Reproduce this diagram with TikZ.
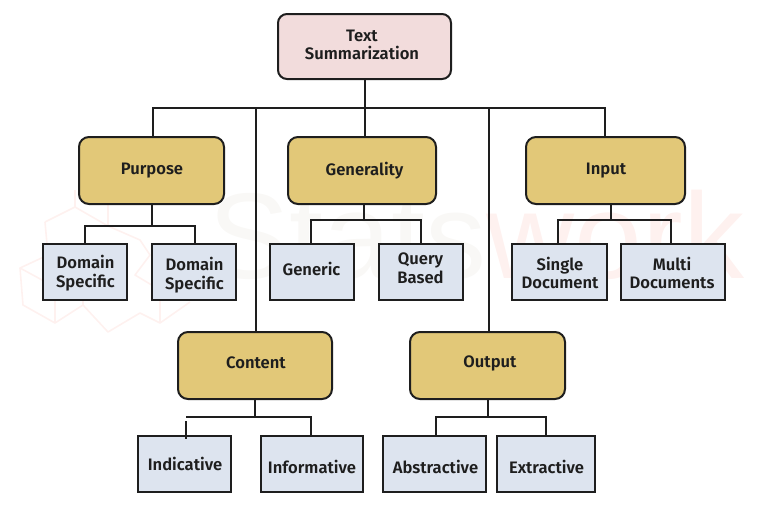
\documentclass[tikz,border=0pt]{standalone}
\usepackage{fontspec}
\setmainfont{Fira Sans}[UprightFont=* Medium,BoldFont=* SemiBold]
\newfontfamily\wmfont{Liberation Sans}
\definecolor{rootfill}{HTML}{F2DCDC}
\definecolor{catfill}{HTML}{E2C878}
\definecolor{leaffill}{HTML}{DDE4EF}
\definecolor{ink}{HTML}{1E1E1E}
\definecolor{wm}{HTML}{FEF1EF}
\definecolor{wmgrey}{HTML}{F9F8F6}
\tikzset{
  base/.style={draw=ink,line width=2pt,inner sep=0pt,outer sep=0pt,anchor=north west},
  rootbox/.style={base,fill=rootfill,rounded corners=9pt},
  catbox/.style={base,fill=catfill,rounded corners=10pt},
  leafbox/.style={base,fill=leaffill},
  link/.style={draw=ink,line width=2pt},
  lab/.style={text=ink,align=center,inner sep=0pt,font=\fontsize{16.6}{18.5}\selectfont\bfseries},
  wmline/.style={draw=wm,line width=1.6pt,line join=round},
}
\begin{document}
\begin{tikzpicture}[x=1pt,y=-1pt]
\useasboundingbox (0,0) rectangle (768,512);
% watermark
\draw[wmline] (45,222) -- (75,207) -- (75,190);
\draw[wmline] (75,207) -- (108,226) -- (108,205);
\draw[wmline] (45,222) -- (48,255) -- (20,268) -- (23,305) -- (55,323) -- (83,305) -- (108,332) -- (140,313) -- (160,323) -- (190,302);
\draw[wmline] (20,268) -- (55,287) -- (55,323);
\draw[wmline] (108,226) -- (140,240) -- (150,255) -- (135,275) -- (160,290) -- (160,323);
\draw[wmline] (55,287) -- (83,272) -- (83,305);
\node[text=wmgrey,font=\fontsize{122}{122}\selectfont\wmfont,anchor=base west,inner sep=0pt] (wmarka) at (208,278) {Stats};
\node[text=wm,font=\fontsize{122}{122}\selectfont\wmfont,anchor=base west,inner sep=0pt] (wmarkb) at (wmarka.base east) {work};
% boxes
\node[rootbox,minimum width=173pt,minimum height=65pt] (root) at (278,14) {};
\node[catbox,minimum width=145pt,minimum height=67pt] (purpose) at (79,137) {};
\node[catbox,minimum width=148pt,minimum height=67pt] (generality) at (288,137) {};
\node[catbox,minimum width=159pt,minimum height=67pt] (input) at (526,137) {};
\node[catbox,minimum width=154pt,minimum height=67pt] (content) at (178,332) {};
\node[catbox,minimum width=155pt,minimum height=67pt] (output) at (410,332) {};
\node[leafbox,minimum width=84pt,minimum height=56pt] (ds1) at (43,244) {};
\node[leafbox,minimum width=84pt,minimum height=56pt] (ds2) at (152,244) {};
\node[leafbox,minimum width=84pt,minimum height=56pt] (generic) at (270,244) {};
\node[leafbox,minimum width=84pt,minimum height=56pt] (query) at (379,244) {};
\node[leafbox,minimum width=95pt,minimum height=56pt] (single) at (512,244) {};
\node[leafbox,minimum width=104pt,minimum height=56pt] (multi) at (621,244) {};
\node[leafbox,minimum width=93pt,minimum height=56pt] (indicative) at (138,436) {};
\node[leafbox,minimum width=102pt,minimum height=56pt] (informative) at (261,436) {};
\node[leafbox,minimum width=103pt,minimum height=56pt] (abstractive) at (383,436) {};
\node[leafbox,minimum width=98pt,minimum height=56pt] (extractive) at (497,436) {};
% labels
\node[lab] (l0) at (362,45) {Text\\Summarization};
\node[lab] (l1) at (152,171) {Purpose};
\node[lab] (l2) at (364.5,171) {Generality};
\node[lab] (l3) at (606,171) {Input};
\node[lab] (l4) at (256,363) {Content};
\node[lab] (l5) at (490,363.5) {Output};
\node[lab] (l6) at (85.5,273) {Domain\\Specific};
\node[lab] (l7) at (194.5,275) {Domain\\Specific};
\node[lab] (l8) at (311.5,269) {Generic};
\node[lab] (l9) at (420.5,268) {Query\\Based};
\node[lab] (l10) at (560,273) {Single\\Document};
\node[lab] (l11) at (672,273) {Multi\\Documents};
\node[lab] (l12) at (185,464) {Indicative};
\node[lab] (l13) at (312,466.5) {Informative};
\node[lab] (l14) at (435.5,466.5) {Abstractive};
\node[lab] (l15) at (546.5,466.5) {Extractive};
% junctions
\coordinate (busL) at (152.5,108);
\coordinate (busC) at (256,108);
\coordinate (busR) at (364.5,108);
\coordinate (busO) at (488.5,108);
\coordinate (busI) at (605,108);
% trunk
\draw[link] (root.south -| busR) -- (generality.north -| busR);
\draw[link] (purpose.north -| busL) -- (busL) -- (busI) -- (input.north -| busI);
\draw[link] (busC) -- (content.north -| busC);
\draw[link] (busO) -- (output.north -| busO);
% purpose
\coordinate (pa) at (85,226); \coordinate (pb) at (195,226); \coordinate (pm) at (151.5,226);
\draw[link] (purpose.south -| pm) -- (pm);
\draw[link] (ds1.north -| pa) -- (pa) -- (pb) -- (ds2.north -| pb);
% generality
\coordinate (ga) at (310.5,220); \coordinate (gb) at (420.5,220); \coordinate (gm) at (364,220);
\draw[link] (generality.south -| gm) -- (gm);
\draw[link] (generic.north -| ga) -- (ga) -- (gb) -- (query.north -| gb);
% input
\coordinate (ia) at (557.5,220); \coordinate (ib) at (671,220); \coordinate (im) at (610.5,220);
\draw[link] (input.south -| im) -- (im);
\draw[link] (single.north -| ia) -- (ia) -- (ib) -- (multi.north -| ib);
% content
\coordinate (ca) at (186,417); \coordinate (cb) at (311,417); \coordinate (cm) at (255,417);
\coordinate (cs) at (186,421); \coordinate (ce) at (186,439);
\draw[link] (content.south -| cm) -- (cm);
\draw[link] (ca) -- (cb) -- (informative.north -| cb);
\draw[link] (cs) -- (ce);
% output
\coordinate (oa) at (436,417); \coordinate (ob) at (546,417); \coordinate (om) at (488,417);
\draw[link] (output.south -| om) -- (om);
\draw[link] (abstractive.north -| oa) -- (oa) -- (ob) -- (extractive.north -| ob);
\end{tikzpicture}
\end{document}
